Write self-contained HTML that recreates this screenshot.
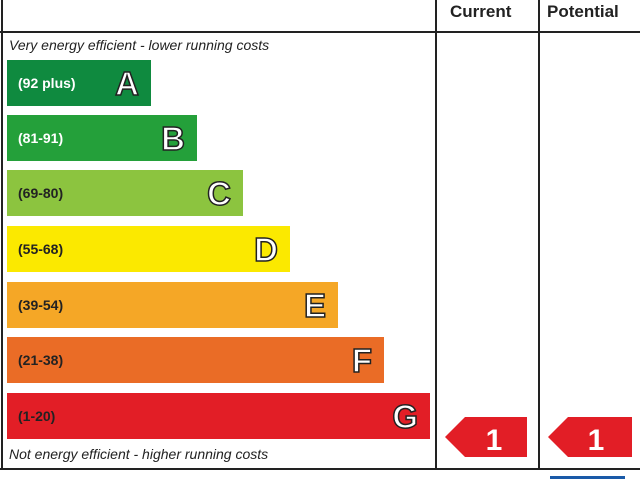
<!DOCTYPE html>
<html><head><style>
body{margin:0;width:640px;height:479px;background:#fff;position:relative;overflow:hidden;font-family:"Liberation Sans",sans-serif}
.l{position:absolute;background:#222}
.b{position:absolute;left:7px;height:46px;color:#222;font-size:14px;font-weight:bold}
.b span{position:absolute;left:11px;top:15px}
.b i{position:absolute;right:12px;top:5px;font-style:normal;font-size:33px;color:#fff;-webkit-text-stroke:1.5px #222}
.t{position:absolute;font-style:italic;font-size:14px;color:#222}
.h{position:absolute;top:2px;font-weight:bold;font-size:17px;color:#222}
</style></head><body>
<div class="l" style="left:1px;top:0;width:2px;height:470px"></div>
<div class="l" style="left:435px;top:0;width:2px;height:470px"></div>
<div class="l" style="left:538px;top:0;width:2px;height:470px"></div>
<div class="l" style="left:0;top:31px;width:640px;height:2px"></div>
<div class="l" style="left:0;top:468px;width:640px;height:2px"></div>
<div style="position:absolute;left:550px;top:476px;width:75px;height:3px;background:#1a5aa8"></div>
<div class="h" style="left:450px">Current</div>
<div class="h" style="left:547px">Potential</div>
<div class="t" style="left:9px;top:37px">Very energy efficient - lower running costs</div>
<div class="t" style="left:9px;top:446px">Not energy efficient - higher running costs</div>
<div class="b" style="top:60px;width:144px;background:#0f8a3f;color:#fff"><span>(92 plus)</span><i>A</i></div>
<div class="b" style="top:115px;width:190px;background:#24a03a;color:#fff"><span>(81-91)</span><i>B</i></div>
<div class="b" style="top:170px;width:236px;background:#8cc43f"><span>(69-80)</span><i>C</i></div>
<div class="b" style="top:226px;width:283px;background:#fbe900"><span>(55-68)</span><i>D</i></div>
<div class="b" style="top:282px;width:331px;background:#f5a726"><span>(39-54)</span><i>E</i></div>
<div class="b" style="top:337px;width:377px;background:#ea6c26"><span>(21-38)</span><i>F</i></div>
<div class="b" style="top:393px;width:423px;background:#e21e26"><span>(1-20)</span><i>G</i></div>
<svg style="position:absolute;left:0;top:0" width="640" height="479">
<polygon points="445,437 465,417 527,417 527,457 465,457" fill="#e21e26"/>
<polygon points="548,437 568,417 632,417 632,457 568,457" fill="#e21e26"/>
<text x="494" y="450" font-family="Liberation Sans" font-weight="bold" font-size="30" fill="#fff" text-anchor="middle">1</text>
<text x="596" y="450" font-family="Liberation Sans" font-weight="bold" font-size="30" fill="#fff" text-anchor="middle">1</text>
</svg>
</body></html>
